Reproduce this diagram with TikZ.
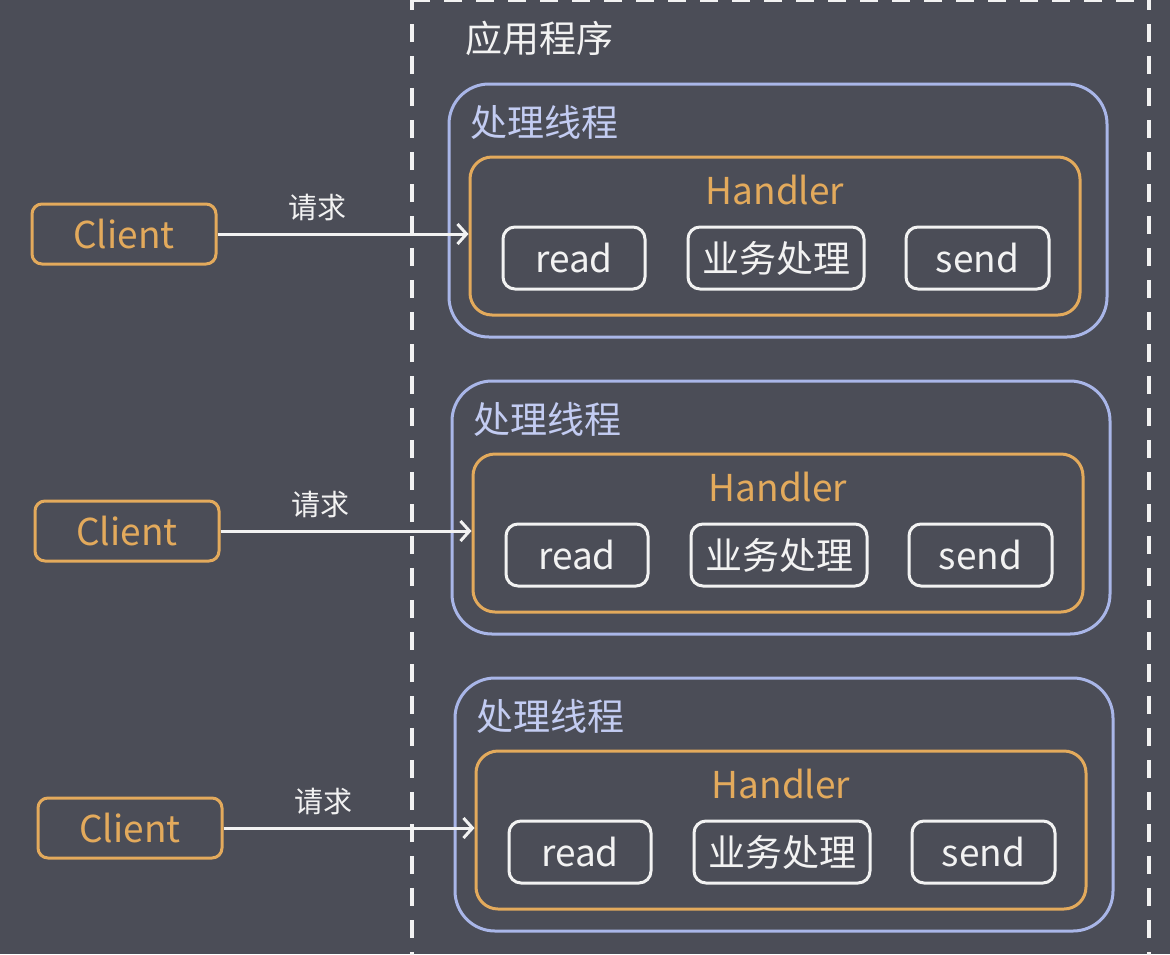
\documentclass[tikz,border=0pt]{standalone}
\usepackage{fontspec}
\setmainfont{Noto Sans CJK SC}
\usetikzlibrary{arrows.meta,positioning}
\definecolor{bgcol}{HTML}{4B4D57}
\definecolor{orangeline}{HTML}{E3AA5C}
\definecolor{blueline}{HTML}{A9B6E8}
\definecolor{bluetext}{HTML}{C3CCF2}
\definecolor{whiteline}{HTML}{F2F2F2}
\tikzset{
  bigfont/.style={font=\fontsize{37}{40}\selectfont},
  smallfont/.style={font=\fontsize{29}{32}\selectfont},
}

\begin{document}
\begin{tikzpicture}[x=1pt,y=-1pt,
client/.style={rectangle,draw=orangeline,line width=3pt,
rounded corners=10pt,minimum width=184pt,minimum height=60pt,
text=orangeline,bigfont,inner sep=0pt},
thread/.style={rectangle,draw=blueline,line width=3pt,
rounded corners=40pt,minimum width=658pt,minimum height=253pt},
handler/.style={rectangle,draw=orangeline,line width=3pt,
rounded corners=22pt,minimum width=610pt,minimum height=158pt},
stepbox/.style={rectangle,draw=whiteline,line width=3pt,
rounded corners=12pt,minimum height=62pt,text=whiteline,bigfont,inner sep=0pt},
flow/.style={draw=whiteline,line width=3pt,
-{Straight Barb[length=9pt,width=20pt,line width=3pt]}},
border/.style={draw=whiteline,line width=4pt,dash pattern=on 18pt off 14pt},
]
\fill[bgcol] (0,0) rectangle (1170,954);
\useasboundingbox (0,0) rectangle (1170,954);

% application frame
\draw[border] (412,-8) -- (412,970);
\draw[border] (1149,-8) -- (1149,970);
\draw[border] (412,0) -- (1149,0);
\node[anchor=west,inner sep=0pt,bigfont,text=whiteline] (app) at (465,38) {应用程序};

\foreach \i in {0,1,2}{
\begin{scope}[xshift=3*\i, yshift=-297*\i]
\node[client] (client\i) at (124,234) {Client};
\node[thread] (thread\i) at (778,210.5) {};
\node[anchor=west,inner sep=0pt,bigfont,text=bluetext] (tname\i) at (470,122) {处理线程};
\node[handler] (handler\i) at (775,236) {};
\node[inner sep=0pt,bigfont,text=orangeline] (hname\i) at (775,190) {Handler};
\node[stepbox,minimum width=142pt] (read\i) at (574,258) {read};
\node[stepbox,minimum width=176pt] (work\i) at (776,258) {业务处理};
\node[stepbox,minimum width=143pt] (send\i) at (977.5,258) {send};
\draw[flow] (client\i.east) -- (client\i.east -| handler\i.west)
  node[pos=0.4,above=12pt,inner sep=0pt,smallfont,text=whiteline] (req\i) {请求};
\end{scope}
}
\end{tikzpicture}
\end{document}
